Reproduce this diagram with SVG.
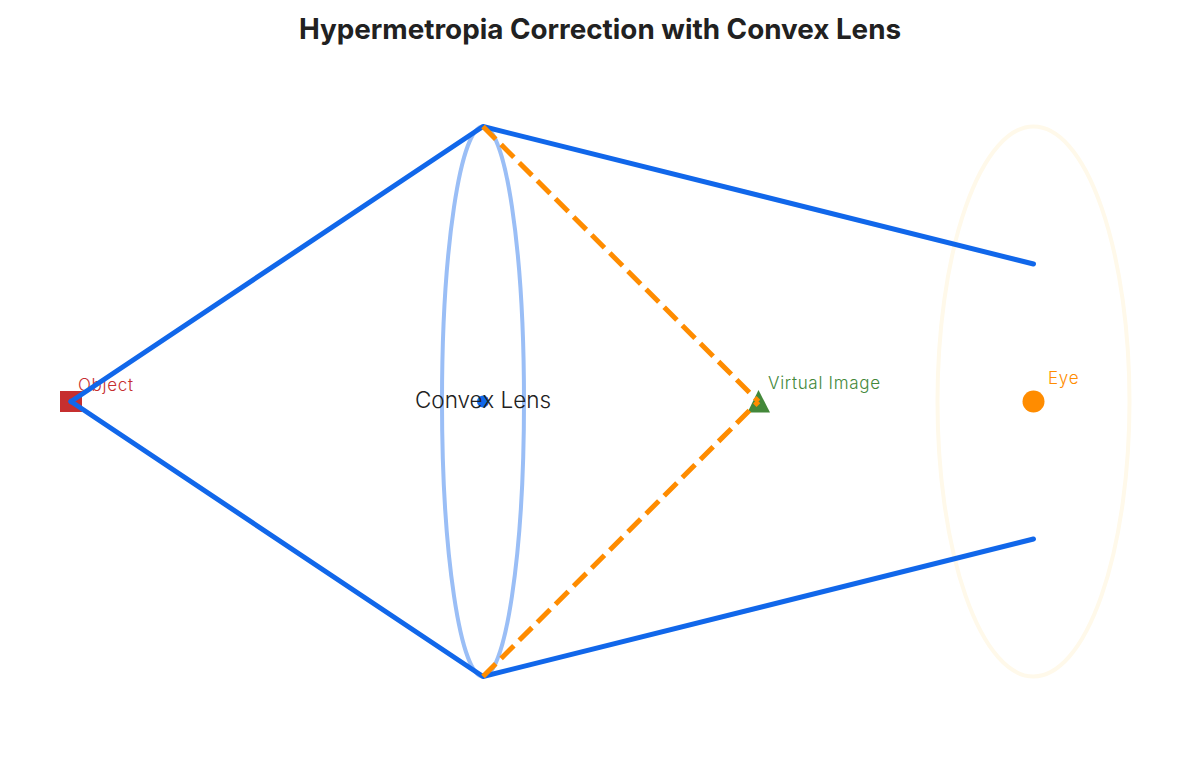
<svg xmlns="http://www.w3.org/2000/svg" width="1200" height="763" viewBox="0 0 1200 763">
<style>
text{font-family:"Inter","Liberation Sans",sans-serif}
.title{font-size:27.8px;font-weight:700;fill:#212121;text-anchor:middle}
.lab{font-size:17px;font-weight:300;letter-spacing:.7px}
.ray{fill:none;stroke:#1167EA;stroke-width:5;stroke-linecap:round;stroke-linejoin:round}
.virt{fill:none;stroke:#FF8C00;stroke-width:5;stroke-dasharray:18 7.6}
</style>
<rect width="1200" height="763" fill="#fff"/>
<text class="title" x="600" y="39">Hypermetropia Correction with Convex Lens</text>
<g id="eye-lens"><ellipse cx="1033.5" cy="401.5" rx="96" ry="275" fill="none" stroke="#FFF9EA" stroke-width="4"/></g>
<g id="lens"><ellipse cx="483" cy="401.5" rx="41" ry="275" fill="none" stroke="#9ABEF6" stroke-width="4"/></g>
<g id="object"><rect x="60" y="391" width="22" height="21" fill="#C62F2F"/><text class="lab" x="78" y="391" fill="#C62F2F">Object</text></g>
<g id="virtual-image"><polygon points="758.5,390 770,412.5 747.5,412.5" fill="#43883A"/><text class="lab" x="768" y="389" fill="#43883A">Virtual Image</text></g>
<g id="eye"><circle cx="1033.5" cy="401.5" r="11" fill="#FF8C00"/><text class="lab" x="1048" y="384" fill="#FF8C00">Eye</text></g>
<g id="connectors">
<path class="ray" d="M71 401.5L483 126.5L1033.5 264"/>
<path class="ray" d="M71 401.5L483 676.5L1033.5 539"/>
<path class="virt" d="M483 126.5L758.5 401.5"/>
<path class="virt" d="M483 676.5L758.5 401.5"/>
</g>
<g id="lens-center"><circle cx="483" cy="401.5" r="6" fill="#1167EA"/><text x="483" y="408" text-anchor="middle" font-size="22.5" font-weight="300" fill="#212121">Convex Lens</text></g>
</svg>
